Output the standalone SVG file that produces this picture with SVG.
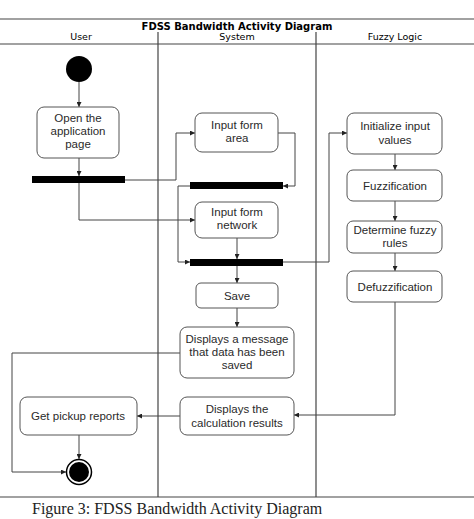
<svg xmlns="http://www.w3.org/2000/svg" width="474" height="519" viewBox="0 0 474 519">
<style>
.lane{stroke:#444;stroke-width:1.2;fill:none}
.box{fill:#fff;stroke:#555;stroke-width:1}
.bar{fill:#000}
.t{font-family:"Liberation Sans",Arial,sans-serif;font-size:11.5px;fill:#2a2a2a;text-anchor:middle}
.h{font-family:"DejaVu Sans",Verdana,sans-serif;font-size:9.5px;fill:#000;text-anchor:middle}
.title{font-family:"DejaVu Sans",Verdana,sans-serif;font-size:10px;font-weight:bold;fill:#000;text-anchor:middle}
.c{stroke:#444;stroke-width:1;fill:none}
.cap{font-family:"Liberation Serif","Times New Roman",serif;font-size:16px;fill:#222}
</style>
<defs>
<marker id="arr" viewBox="0 0 10 10" refX="10" refY="5" markerWidth="5" markerHeight="5" orient="auto" markerUnits="userSpaceOnUse">
<path d="M0,0 L10,5 L0,10 z" fill="#222"/>
</marker>
</defs>
<rect width="474" height="519" fill="#fff"/>
<g id="swimlanes">
<line class="lane" x1="0" y1="19" x2="474" y2="19"/>
<line class="lane" x1="0" y1="44" x2="474" y2="44"/>
<line class="lane" x1="0" y1="497" x2="474" y2="497"/>
<line class="lane" x1="158" y1="32" x2="158" y2="497"/>
<line class="lane" x1="316" y1="32" x2="316" y2="497"/>
<text class="title" x="237" y="30">FDSS Bandwidth Activity Diagram</text>
<text class="h" x="81" y="40">User</text>
<text class="h" x="237" y="40">System</text>
<text class="h" x="395" y="40">Fuzzy Logic</text>
</g>
<g id="connectors">
<line class="c" x1="79" y1="82" x2="79" y2="107" marker-end="url(#arr)"/>
<line class="c" x1="79" y1="158" x2="79" y2="176" marker-end="url(#arr)"/>
<path class="c" d="M125,180 H176 V133 H195" marker-end="url(#arr)"/>
<path class="c" d="M79,182 V220 H195" marker-end="url(#arr)"/>
<path class="c" d="M278,133 H295 V186 H283" marker-end="url(#arr)"/>
<path class="c" d="M190,186 H178 V262 H190" marker-end="url(#arr)"/>
<line class="c" x1="237" y1="238" x2="237" y2="259" marker-end="url(#arr)"/>
<path class="c" d="M283,262 H329 V133 H347" marker-end="url(#arr)"/>
<line class="c" x1="237" y1="265" x2="237" y2="283" marker-end="url(#arr)"/>
<line class="c" x1="237" y1="308" x2="237" y2="327" marker-end="url(#arr)"/>
<line class="c" x1="395" y1="154" x2="395" y2="170" marker-end="url(#arr)"/>
<line class="c" x1="395" y1="201" x2="395" y2="221" marker-end="url(#arr)"/>
<line class="c" x1="395" y1="253" x2="395" y2="271" marker-end="url(#arr)"/>
<path class="c" d="M395,302 V415 H294" marker-end="url(#arr)"/>
<line class="c" x1="180" y1="416" x2="137" y2="416" marker-end="url(#arr)"/>
<path class="c" d="M180,353 H12 V472 H66" marker-end="url(#arr)"/>
<line class="c" x1="79" y1="435" x2="79" y2="459" marker-end="url(#arr)"/>
</g>
<g id="start"><circle cx="79" cy="69" r="13" fill="#000"/></g>
<g id="open-app">
<rect class="box" x="37" y="107" width="82" height="51" rx="7"/>
<text class="t" x="78" y="122">Open the</text>
<text class="t" x="78" y="135">application</text>
<text class="t" x="78" y="148">page</text>
</g>
<g id="fork1"><rect class="bar" x="32" y="176" width="93" height="7"/></g>
<g id="input-area">
<rect class="box" x="195" y="113" width="83" height="39" rx="7"/>
<text class="t" x="237" y="129">Input form</text>
<text class="t" x="237" y="142">area</text>
</g>
<g id="join1"><rect class="bar" x="190" y="182" width="93" height="7"/></g>
<g id="input-network">
<rect class="box" x="195" y="202" width="83" height="36" rx="7"/>
<text class="t" x="237" y="216">Input form</text>
<text class="t" x="237" y="229">network</text>
</g>
<g id="join2"><rect class="bar" x="190" y="259" width="93" height="7"/></g>
<g id="save">
<rect class="box" x="196" y="283" width="82" height="25" rx="5"/>
<text class="t" x="237" y="300">Save</text>
</g>
<g id="display-msg">
<rect class="box" x="180" y="327" width="114" height="51" rx="7"/>
<text class="t" x="237" y="343">Displays a message</text>
<text class="t" x="237" y="356">that data has been</text>
<text class="t" x="237" y="369">saved</text>
</g>
<g id="display-results">
<rect class="box" x="180" y="397" width="114" height="38" rx="7"/>
<text class="t" x="237" y="413">Displays the</text>
<text class="t" x="237" y="427">calculation results</text>
</g>
<g id="get-reports">
<rect class="box" x="20" y="397" width="117" height="38" rx="7"/>
<text class="t" x="78" y="420">Get pickup reports</text>
</g>
<g id="end">
<circle cx="79" cy="472" r="12.5" fill="#fff" stroke="#000" stroke-width="1.5"/>
<circle cx="79" cy="472" r="10" fill="#000"/>
</g>
<g id="init-input">
<rect class="box" x="347" y="113" width="95" height="41" rx="7"/>
<text class="t" x="395" y="130">Initialize input</text>
<text class="t" x="395" y="144">values</text>
</g>
<g id="fuzzification">
<rect class="box" x="347" y="170" width="95" height="31" rx="6"/>
<text class="t" x="395" y="190">Fuzzification</text>
</g>
<g id="fuzzy-rules">
<rect class="box" x="347" y="221" width="95" height="32" rx="6"/>
<text class="t" x="395" y="234">Determine fuzzy</text>
<text class="t" x="395" y="247">rules</text>
</g>
<g id="defuzzification">
<rect class="box" x="347" y="271" width="95" height="31" rx="6"/>
<text class="t" x="395" y="291">Defuzzification</text>
</g>
<text class="cap" x="32" y="514">Figure 3: FDSS Bandwidth Activity Diagram</text>
</svg>
